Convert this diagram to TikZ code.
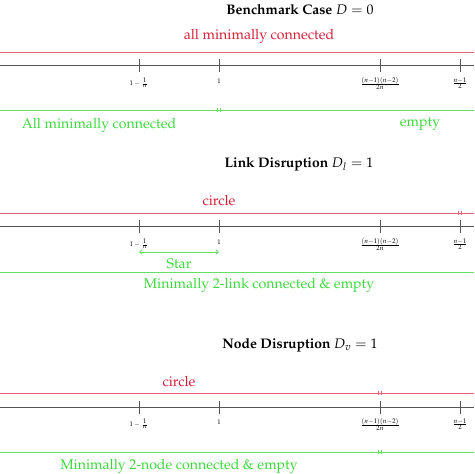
\documentclass[tikz,border=0pt]{standalone}
\usepackage[T1]{fontenc}
\usepackage{mathpazo}
\usetikzlibrary{arrows.meta}
\definecolor{myred}{RGB}{215,30,55}
\definecolor{mygreen}{RGB}{60,215,60}
\definecolor{axisgray}{RGB}{85,85,85}
\tikzset{
  ttl/.style={font=\fontsize{10.4}{12.5}\selectfont},
  lbl/.style={font=\fontsize{10.6}{12.7}\selectfont},
  tlab/.style={font=\tiny, inner sep=0pt},
  axisline/.style={draw=axisgray, line width=0.7pt},
  tickline/.style={draw=axisgray, line width=0.6pt},
  redline/.style={draw=myred!70, line width=0.5pt},
  greenline/.style={draw=mygreen!80, line width=0.6pt},
  endmark/.style={-{Bar[width=3.6pt,line width=0.45pt]}},
  startmark/.style={{Bar[width=3.6pt,line width=0.45pt]}-},
  bothmark/.style={{Straight Barb[length=2pt,width=3.5pt]}-{Straight Barb[length=2pt,width=3.5pt]}}
}
\newcommand{\markedline}[5]{% style, left, mid-left, mid-right, right
  \draw[#1, endmark] (#2) -- (#3);
  \draw[#1] (#3) -- (#4);
  \draw[#1, startmark] (#4) -- (#5);
}
\begin{document}
\begin{tikzpicture}[x=0.75pt,y=-0.75pt]
\useasboundingbox (0,0) rectangle (474,474);

% ---------- Section 1 ----------
\node[ttl] (t1) at (300,10) {\textbf{Benchmark Case} $D=0$};
\node[lbl, text=myred] (r1) at (259,36) {all minimally connected};
\coordinate (r1L) at (0,52); \coordinate (r1R) at (474,52);
\draw[redline] (r1L) -- (r1R);
\coordinate (a1L) at (0,65); \coordinate (a1R) at (474,65);
\draw[axisline] (a1L) -- (a1R);
\foreach \n/\x in {a/139,b/219,c/380,d/460}{
  \coordinate (s1\n t) at (\x,59); \coordinate (s1\n b) at (\x,72);
  \draw[tickline] (s1\n t) -- (s1\n b);
}
\node[tlab] (l1a) at (139,83) {$1-\frac{1}{n}$};
\node[tlab] (l1b) at (219,81.5) {$1$};
\node[tlab] (l1c) at (380,83) {$\frac{(n-1)(n-2)}{2n}$};
\node[tlab] (l1d) at (460,83) {$\frac{n-1}{2}$};
\coordinate (g1L) at (0,110); \coordinate (g1Ma) at (217.6,110);
\coordinate (g1Mb) at (220.4,110); \coordinate (g1R) at (474,110);
\markedline{greenline}{g1L}{g1Ma}{g1Mb}{g1R}
\node[lbl, text=mygreen] (g1a) at (99,125) {All minimally connected};
\node[lbl, text=mygreen] (g1b) at (420,124) {empty};

% ---------- Section 2 ----------
\node[ttl] (t2) at (299,164) {\textbf{Link Disruption} $D_l=1$};
\node[lbl, text=myred] (r2) at (219,201) {circle};
\coordinate (r2L) at (0,213); \coordinate (r2Ma) at (458.6,213);
\coordinate (r2Mb) at (461.4,213); \coordinate (r2R) at (474,213);
\markedline{redline}{r2L}{r2Ma}{r2Mb}{r2R}
\coordinate (a2L) at (0,226); \coordinate (a2R) at (474,226);
\draw[axisline] (a2L) -- (a2R);
\foreach \n/\x in {a/139,b/219,c/380,d/460}{
  \coordinate (s2\n t) at (\x,220); \coordinate (s2\n b) at (\x,233);
  \draw[tickline] (s2\n t) -- (s2\n b);
}
\node[tlab] (l2a) at (139,244) {$1-\frac{1}{n}$};
\node[tlab] (l2b) at (219,242.5) {$1$};
\node[tlab] (l2c) at (380,244) {$\frac{(n-1)(n-2)}{2n}$};
\node[tlab] (l2d) at (460,244) {$\frac{n-1}{2}$};
\coordinate (st1) at (139,252); \coordinate (st2) at (219,252);
\draw[greenline, bothmark] (st1) -- (st2);
\node[lbl, text=mygreen] (star) at (179,264) {Star};
\coordinate (g2L) at (0,272); \coordinate (g2R) at (474,272);
\draw[greenline] (g2L) -- (g2R);
\node[lbl, text=mygreen] (g2a) at (259,285) {Minimally 2-link connected \& empty};

% ---------- Section 3 ----------
\node[ttl] (t3) at (300,345) {\textbf{Node Disruption} $D_v=1$};
\node[lbl, text=myred] (r3) at (179,382) {circle};
\coordinate (r3L) at (0,393); \coordinate (r3Ma) at (378.6,393);
\coordinate (r3Mb) at (381.4,393); \coordinate (r3R) at (474,393);
\markedline{redline}{r3L}{r3Ma}{r3Mb}{r3R}
\coordinate (a3L) at (0,407); \coordinate (a3R) at (474,407);
\draw[axisline] (a3L) -- (a3R);
\foreach \n/\x in {a/139,b/219,c/380,d/460}{
  \coordinate (s3\n t) at (\x,401); \coordinate (s3\n b) at (\x,414);
  \draw[tickline] (s3\n t) -- (s3\n b);
}
\node[tlab] (l3a) at (139,424) {$1-\frac{1}{n}$};
\node[tlab] (l3b) at (219,422.5) {$1$};
\node[tlab] (l3c) at (380,424) {$\frac{(n-1)(n-2)}{2n}$};
\node[tlab] (l3d) at (460,424) {$\frac{n-1}{2}$};
\coordinate (g3L) at (0,452); \coordinate (g3Ma) at (378.6,452);
\coordinate (g3Mb) at (381.4,452); \coordinate (g3R) at (474,452);
\markedline{greenline}{g3L}{g3Ma}{g3Mb}{g3R}
\node[lbl, text=mygreen] (g3a) at (179,466) {Minimally 2-node connected \& empty};
\end{tikzpicture}
\end{document}
